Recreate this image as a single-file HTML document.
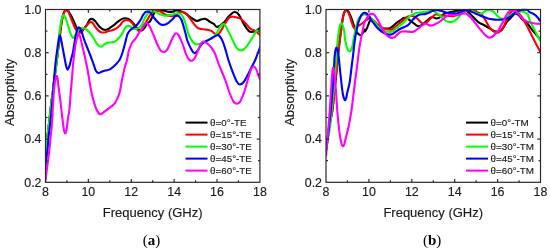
<!DOCTYPE html>
<html><head><meta charset="utf-8"><style>
html,body{margin:0;padding:0;background:#fff;}
body{width:550px;height:251px;overflow:hidden;}
svg{display:block;filter:blur(0.3px);}
text{font-family:"Liberation Sans",Arial,sans-serif;font-size:12.4px;fill:#1a1a1a;stroke:#1a1a1a;stroke-width:0.15px;}
text.leg{font-size:9.8px;}
text.cap{font-family:"Liberation Serif","Times New Roman",serif;font-size:15px;fill:#000;stroke:none;}
text.ttl{font-size:13px;}
</style></head><body>
<svg width="550" height="251" viewBox="0 0 550 251">
<defs><clipPath id="ca"><rect x="45.50" y="8.00" width="214.40" height="174.30"/></clipPath>
<clipPath id="cb"><rect x="326.00" y="8.00" width="214.50" height="174.30"/></clipPath></defs>
<g clip-path="url(#ca)"><g fill="none" stroke-width="2.1" stroke-linejoin="round" stroke-linecap="round"><path d="M45.50,155.00 C45.67,153.50 46.20,149.00 46.50,146.00 C46.80,143.00 46.97,140.00 47.30,137.00 C47.63,134.00 48.07,131.67 48.50,128.00 C48.93,124.33 49.45,119.00 49.90,115.00 C50.35,111.00 50.72,107.83 51.20,104.00 C51.68,100.17 52.30,96.00 52.80,92.00 C53.30,88.00 53.73,83.67 54.20,80.00 C54.67,76.33 55.20,73.00 55.60,70.00 C56.00,67.00 56.27,64.67 56.60,62.00 C56.93,59.33 57.27,56.67 57.60,54.00 C57.93,51.33 58.28,48.33 58.60,46.00 C58.92,43.67 59.22,42.33 59.50,40.00 C59.78,37.67 60.00,34.67 60.30,32.00 C60.60,29.33 60.92,26.50 61.30,24.00 C61.68,21.50 62.22,18.75 62.60,17.00 C62.98,15.25 63.23,14.50 63.60,13.50 C63.97,12.50 64.33,11.58 64.80,11.00 C65.27,10.42 65.88,10.07 66.40,10.00 C66.92,9.93 67.43,10.18 67.90,10.60 C68.37,11.02 68.68,11.68 69.20,12.50 C69.72,13.32 70.43,14.47 71.00,15.50 C71.57,16.53 72.02,17.45 72.60,18.70 C73.18,19.95 73.85,21.53 74.50,23.00 C75.15,24.47 75.83,26.25 76.50,27.50 C77.17,28.75 77.83,29.83 78.50,30.50 C79.17,31.17 79.87,31.42 80.50,31.50 C81.13,31.58 81.63,31.58 82.30,31.00 C82.97,30.42 83.70,29.08 84.50,28.00 C85.30,26.92 86.27,25.87 87.10,24.50 C87.93,23.13 88.72,20.73 89.50,19.80 C90.28,18.87 91.08,18.90 91.80,18.90 C92.52,18.90 93.17,19.33 93.80,19.80 C94.43,20.27 94.65,20.53 95.60,21.70 C96.55,22.87 98.22,25.52 99.50,26.80 C100.78,28.08 102.03,28.93 103.30,29.40 C104.57,29.87 105.83,29.98 107.10,29.60 C108.37,29.22 109.62,27.98 110.90,27.10 C112.18,26.22 113.52,25.30 114.80,24.30 C116.08,23.30 117.32,22.05 118.60,21.10 C119.88,20.15 121.35,19.08 122.50,18.60 C123.65,18.12 124.55,18.15 125.50,18.20 C126.45,18.25 127.35,18.53 128.20,18.90 C129.05,19.27 129.57,19.45 130.60,20.40 C131.63,21.35 133.25,23.25 134.40,24.60 C135.55,25.95 136.52,27.52 137.50,28.50 C138.48,29.48 139.43,30.28 140.30,30.50 C141.17,30.72 141.90,30.37 142.70,29.80 C143.50,29.23 144.30,28.18 145.10,27.10 C145.90,26.02 146.68,24.27 147.50,23.30 C148.32,22.33 149.15,22.48 150.00,21.30 C150.85,20.12 151.82,17.70 152.60,16.20 C153.38,14.70 154.18,13.15 154.70,12.30 C155.22,11.45 155.15,11.42 155.70,11.10 C156.25,10.78 156.82,10.50 158.00,10.40 C159.18,10.30 161.15,10.28 162.80,10.50 C164.45,10.72 166.32,11.50 167.90,11.70 C169.48,11.90 171.03,11.90 172.30,11.70 C173.57,11.50 174.55,10.72 175.50,10.50 C176.45,10.28 177.15,10.30 178.00,10.40 C178.85,10.50 179.32,10.55 180.60,11.10 C181.88,11.65 184.00,12.63 185.70,13.70 C187.40,14.77 189.10,16.33 190.80,17.50 C192.50,18.67 194.62,20.20 195.90,20.70 C197.18,21.20 197.65,20.72 198.50,20.50 C199.35,20.28 199.95,19.68 201.00,19.40 C202.05,19.12 203.72,18.70 204.80,18.80 C205.88,18.90 206.63,19.48 207.50,20.00 C208.37,20.52 208.95,21.25 210.00,21.90 C211.05,22.55 212.62,23.07 213.80,23.90 C214.98,24.73 215.48,27.07 217.10,26.90 C218.72,26.73 221.58,24.63 223.50,22.90 C225.42,21.17 226.78,18.32 228.60,16.50 C230.42,14.68 232.70,12.32 234.40,12.00 C236.10,11.68 237.22,12.58 238.80,14.60 C240.38,16.62 242.20,21.35 243.90,24.10 C245.60,26.85 247.52,29.82 249.00,31.10 C250.48,32.38 251.52,31.88 252.80,31.80 C254.08,31.72 255.42,31.32 256.70,30.60 C257.98,29.88 259.87,28.02 260.50,27.50" stroke="#000000"/><path d="M45.50,155.00 C45.67,153.50 46.20,149.00 46.50,146.00 C46.80,143.00 46.97,140.00 47.30,137.00 C47.63,134.00 48.07,131.67 48.50,128.00 C48.93,124.33 49.45,119.00 49.90,115.00 C50.35,111.00 50.72,107.83 51.20,104.00 C51.68,100.17 52.30,96.00 52.80,92.00 C53.30,88.00 53.73,83.67 54.20,80.00 C54.67,76.33 55.20,73.00 55.60,70.00 C56.00,67.00 56.27,64.67 56.60,62.00 C56.93,59.33 57.27,56.67 57.60,54.00 C57.93,51.33 58.28,48.33 58.60,46.00 C58.92,43.67 59.22,42.33 59.50,40.00 C59.78,37.67 60.00,34.67 60.30,32.00 C60.60,29.33 60.92,26.50 61.30,24.00 C61.68,21.50 62.22,18.75 62.60,17.00 C62.98,15.25 63.23,14.50 63.60,13.50 C63.97,12.50 64.37,11.58 64.80,11.00 C65.23,10.42 65.75,10.07 66.20,10.00 C66.65,9.93 67.10,10.22 67.50,10.60 C67.90,10.98 68.20,11.47 68.60,12.30 C69.00,13.13 69.25,13.98 69.90,15.60 C70.55,17.22 71.65,19.93 72.50,22.00 C73.35,24.07 74.15,26.37 75.00,28.00 C75.85,29.63 76.68,31.02 77.60,31.80 C78.52,32.58 79.72,32.83 80.50,32.70 C81.28,32.57 81.47,31.93 82.30,31.00 C83.13,30.07 84.33,28.50 85.50,27.10 C86.67,25.70 88.35,23.45 89.30,22.60 C90.25,21.75 90.58,21.88 91.20,22.00 C91.82,22.12 92.37,22.55 93.00,23.30 C93.63,24.05 94.03,25.23 95.00,26.50 C95.97,27.77 97.63,29.90 98.80,30.90 C99.97,31.90 100.83,32.28 102.00,32.50 C103.17,32.72 104.95,32.38 105.80,32.20 C106.65,32.02 106.03,31.72 107.10,31.40 C108.17,31.08 110.72,30.75 112.20,30.30 C113.68,29.85 114.73,29.48 116.00,28.70 C117.27,27.92 118.75,26.70 119.80,25.60 C120.85,24.50 121.52,22.95 122.30,22.10 C123.08,21.25 123.77,20.85 124.50,20.50 C125.23,20.15 125.95,19.98 126.70,20.00 C127.45,20.02 128.25,20.25 129.00,20.60 C129.75,20.95 130.30,21.20 131.20,22.10 C132.10,23.00 133.42,24.77 134.40,26.00 C135.38,27.23 136.25,28.65 137.10,29.50 C137.95,30.35 138.72,31.10 139.50,31.10 C140.28,31.10 141.00,30.43 141.80,29.50 C142.60,28.57 143.48,26.92 144.30,25.50 C145.12,24.08 145.90,22.45 146.70,21.00 C147.50,19.55 148.35,18.05 149.10,16.80 C149.85,15.55 150.53,14.43 151.20,13.50 C151.87,12.57 152.47,11.73 153.10,11.20 C153.73,10.67 154.23,10.42 155.00,10.30 C155.77,10.18 156.82,10.30 157.70,10.50 C158.58,10.70 159.45,11.08 160.30,11.50 C161.15,11.92 161.53,12.32 162.80,13.00 C164.07,13.68 166.20,15.07 167.90,15.60 C169.60,16.13 171.65,16.38 173.00,16.20 C174.35,16.02 174.95,15.13 176.00,14.50 C177.05,13.87 178.30,12.82 179.30,12.40 C180.30,11.98 181.15,12.00 182.00,12.00 C182.85,12.00 183.65,12.07 184.40,12.40 C185.15,12.73 185.85,13.37 186.50,14.00 C187.15,14.63 187.37,14.98 188.30,16.20 C189.23,17.42 190.83,19.60 192.10,21.30 C193.37,23.00 194.83,25.23 195.90,26.40 C196.97,27.57 197.65,27.87 198.50,28.30 C199.35,28.73 199.73,28.78 201.00,29.00 C202.27,29.22 204.40,29.28 206.10,29.60 C207.80,29.92 209.37,30.00 211.20,30.90 C213.03,31.80 215.58,34.85 217.10,35.00 C218.62,35.15 219.02,33.62 220.30,31.80 C221.58,29.98 223.20,26.55 224.80,24.10 C226.40,21.65 228.20,18.27 229.90,17.10 C231.60,15.93 233.30,16.88 235.00,17.10 C236.70,17.32 238.40,17.43 240.10,18.40 C241.80,19.37 243.50,21.20 245.20,22.90 C246.90,24.60 248.60,27.23 250.30,28.60 C252.00,29.97 253.70,29.95 255.40,31.10 C257.10,32.25 259.65,34.77 260.50,35.50" stroke="#ff0000"/><path d="M45.50,155.00 C45.67,153.50 46.20,149.00 46.50,146.00 C46.80,143.00 46.97,140.00 47.30,137.00 C47.63,134.00 48.07,131.67 48.50,128.00 C48.93,124.33 49.45,119.00 49.90,115.00 C50.35,111.00 50.72,107.83 51.20,104.00 C51.68,100.17 52.30,96.00 52.80,92.00 C53.30,88.00 53.73,83.67 54.20,80.00 C54.67,76.33 55.20,73.00 55.60,70.00 C56.00,67.00 56.27,64.67 56.60,62.00 C56.93,59.33 57.33,56.67 57.60,54.00 C57.87,51.33 57.98,49.00 58.20,46.00 C58.42,43.00 58.58,39.00 58.90,36.00 C59.22,33.00 59.73,30.50 60.10,28.00 C60.47,25.50 60.72,22.83 61.10,21.00 C61.48,19.17 61.92,17.95 62.40,17.00 C62.88,16.05 63.23,14.47 64.00,15.30 C64.77,16.13 66.00,19.22 67.00,22.00 C68.00,24.78 69.02,29.35 70.00,32.00 C70.98,34.65 71.98,37.40 72.90,37.90 C73.82,38.40 74.57,36.28 75.50,35.00 C76.43,33.72 77.68,31.32 78.50,30.20 C79.32,29.08 79.73,28.67 80.40,28.30 C81.07,27.93 81.65,27.88 82.50,28.00 C83.35,28.12 84.37,28.30 85.50,29.00 C86.63,29.70 88.13,30.93 89.30,32.20 C90.47,33.47 91.63,35.38 92.50,36.60 C93.37,37.82 93.87,38.42 94.50,39.50 C95.13,40.58 95.63,42.08 96.30,43.10 C96.97,44.12 97.68,44.98 98.50,45.60 C99.32,46.22 100.22,47.00 101.20,46.80 C102.18,46.60 103.33,45.08 104.40,44.40 C105.47,43.72 106.33,43.05 107.60,42.70 C108.87,42.35 110.73,42.53 112.00,42.30 C113.27,42.07 114.13,41.93 115.20,41.30 C116.27,40.67 117.33,39.62 118.40,38.50 C119.47,37.38 120.78,35.77 121.60,34.60 C122.42,33.43 122.87,32.30 123.30,31.50 C123.73,30.70 123.72,30.63 124.20,29.80 C124.68,28.97 125.52,27.18 126.20,26.50 C126.88,25.82 127.58,25.70 128.30,25.70 C129.02,25.70 129.63,26.03 130.50,26.50 C131.37,26.97 132.67,28.08 133.50,28.50 C134.33,28.92 134.75,29.03 135.50,29.00 C136.25,28.97 137.12,28.80 138.00,28.30 C138.88,27.80 140.05,26.83 140.80,26.00 C141.55,25.17 141.98,24.30 142.50,23.30 C143.02,22.30 143.35,21.15 143.90,20.00 C144.45,18.85 145.20,17.43 145.80,16.40 C146.40,15.37 146.80,14.78 147.50,13.80 C148.20,12.82 149.17,10.97 150.00,10.50 C150.83,10.03 151.65,10.80 152.50,11.00 C153.35,11.20 154.03,11.25 155.10,11.70 C156.17,12.15 157.42,13.05 158.90,13.70 C160.38,14.35 162.65,15.28 164.00,15.60 C165.35,15.92 165.93,15.72 167.00,15.60 C168.07,15.48 168.98,15.22 170.40,14.90 C171.82,14.58 174.15,13.93 175.50,13.70 C176.85,13.47 177.65,13.47 178.50,13.50 C179.35,13.53 179.97,13.53 180.60,13.90 C181.23,14.27 181.77,14.88 182.30,15.70 C182.83,16.52 183.27,17.50 183.80,18.80 C184.33,20.10 184.97,21.80 185.50,23.50 C186.03,25.20 186.33,26.82 187.00,29.00 C187.67,31.18 188.20,34.12 189.50,36.60 C190.80,39.08 192.92,42.75 194.80,43.90 C196.68,45.05 199.10,43.90 200.80,43.50 C202.50,43.10 203.33,42.37 205.00,41.50 C206.67,40.63 209.05,39.38 210.80,38.30 C212.55,37.22 214.02,36.80 215.50,35.00 C216.98,33.20 218.70,29.17 219.70,27.50 C220.70,25.83 220.87,25.58 221.50,25.00 C222.13,24.42 222.87,23.95 223.50,24.00 C224.13,24.05 224.67,24.43 225.30,25.30 C225.93,26.17 226.32,27.27 227.30,29.20 C228.28,31.13 230.08,34.60 231.20,36.90 C232.32,39.20 233.12,41.23 234.00,43.00 C234.88,44.77 235.70,46.37 236.50,47.50 C237.30,48.63 238.10,49.32 238.80,49.80 C239.50,50.28 240.05,50.37 240.70,50.40 C241.35,50.43 241.73,50.63 242.70,50.00 C243.67,49.37 245.02,48.45 246.50,46.60 C247.98,44.75 250.12,41.23 251.60,38.90 C253.08,36.57 254.45,34.00 255.40,32.60 C256.35,31.20 256.45,30.60 257.30,30.50 C258.15,30.40 259.97,31.75 260.50,32.00" stroke="#00ff00"/><path d="M45.50,166.00 C45.63,165.00 45.90,163.33 46.30,160.00 C46.70,156.67 47.52,149.83 47.90,146.00 C48.28,142.17 48.30,140.00 48.60,137.00 C48.90,134.00 49.33,131.17 49.70,128.00 C50.07,124.83 50.48,121.00 50.80,118.00 C51.12,115.00 51.32,113.00 51.60,110.00 C51.88,107.00 52.22,103.33 52.50,100.00 C52.78,96.67 53.02,93.67 53.30,90.00 C53.58,86.33 53.88,82.00 54.20,78.00 C54.52,74.00 54.88,69.33 55.20,66.00 C55.52,62.67 55.77,60.67 56.10,58.00 C56.43,55.33 56.85,52.50 57.20,50.00 C57.55,47.50 57.78,45.37 58.20,43.00 C58.62,40.63 59.27,36.63 59.70,35.80 C60.13,34.97 60.47,36.80 60.80,38.00 C61.13,39.20 61.37,41.25 61.70,43.00 C62.03,44.75 62.42,46.50 62.80,48.50 C63.18,50.50 63.55,52.58 64.00,55.00 C64.45,57.42 65.08,60.92 65.50,63.00 C65.92,65.08 66.15,66.38 66.50,67.50 C66.85,68.62 67.22,69.70 67.60,69.70 C67.98,69.70 68.40,68.45 68.80,67.50 C69.20,66.55 69.60,65.42 70.00,64.00 C70.40,62.58 70.70,61.00 71.20,59.00 C71.70,57.00 72.32,55.50 73.00,52.00 C73.68,48.50 74.63,41.58 75.30,38.00 C75.97,34.42 76.42,32.27 77.00,30.50 C77.58,28.73 78.13,27.48 78.80,27.40 C79.47,27.32 80.20,28.23 81.00,30.00 C81.80,31.77 82.77,35.58 83.60,38.00 C84.43,40.42 84.97,41.83 86.00,44.50 C87.03,47.17 88.67,51.08 89.80,54.00 C90.93,56.92 92.07,60.00 92.80,62.00 C93.53,64.00 93.68,64.53 94.20,66.00 C94.72,67.47 95.18,69.62 95.90,70.80 C96.62,71.98 97.55,72.93 98.50,73.10 C99.45,73.27 100.43,72.23 101.60,71.80 C102.77,71.37 104.22,70.87 105.50,70.50 C106.78,70.13 108.03,70.18 109.30,69.60 C110.57,69.02 111.83,68.07 113.10,67.00 C114.37,65.93 115.83,64.37 116.90,63.20 C117.97,62.03 118.77,61.20 119.50,60.00 C120.23,58.80 120.67,57.67 121.30,56.00 C121.93,54.33 122.62,52.33 123.30,50.00 C123.98,47.67 124.72,44.62 125.40,42.00 C126.08,39.38 126.65,36.22 127.40,34.30 C128.15,32.38 128.95,31.55 129.90,30.50 C130.85,29.45 132.08,28.78 133.10,28.00 C134.12,27.22 135.10,26.63 136.00,25.80 C136.90,24.97 137.70,24.03 138.50,23.00 C139.30,21.97 140.13,20.77 140.80,19.60 C141.47,18.43 141.98,16.97 142.50,16.00 C143.02,15.03 143.35,14.48 143.90,13.80 C144.45,13.12 145.15,12.27 145.80,11.90 C146.45,11.53 147.10,11.50 147.80,11.60 C148.50,11.70 149.33,12.02 150.00,12.50 C150.67,12.98 151.17,13.67 151.80,14.50 C152.43,15.33 152.82,16.25 153.80,17.50 C154.78,18.75 156.58,20.87 157.70,22.00 C158.82,23.13 159.65,23.82 160.50,24.30 C161.35,24.78 161.97,24.87 162.80,24.90 C163.63,24.93 164.65,24.78 165.50,24.50 C166.35,24.22 167.07,23.78 167.90,23.20 C168.73,22.62 169.65,21.73 170.50,21.00 C171.35,20.27 172.25,19.55 173.00,18.80 C173.75,18.05 174.37,17.03 175.00,16.50 C175.63,15.97 176.22,15.68 176.80,15.60 C177.38,15.52 177.97,15.68 178.50,16.00 C179.03,16.32 179.47,16.75 180.00,17.50 C180.53,18.25 181.17,19.23 181.70,20.50 C182.23,21.77 182.53,22.85 183.20,25.10 C183.87,27.35 184.98,31.35 185.70,34.00 C186.42,36.65 186.47,38.27 187.50,41.00 C188.53,43.73 190.72,48.38 191.90,50.40 C193.08,52.42 193.58,53.17 194.60,53.10 C195.62,53.03 196.80,51.52 198.00,50.00 C199.20,48.48 200.52,45.42 201.80,44.00 C203.08,42.58 204.20,42.35 205.70,41.50 C207.20,40.65 208.78,39.97 210.80,38.90 C212.82,37.83 215.90,34.88 217.80,35.10 C219.70,35.32 220.82,37.43 222.20,40.20 C223.58,42.97 225.07,48.40 226.10,51.70 C227.13,55.00 227.22,56.38 228.40,60.00 C229.58,63.62 231.77,69.73 233.20,73.40 C234.63,77.07 235.88,80.15 237.00,82.00 C238.12,83.85 238.78,84.50 239.90,84.50 C241.02,84.50 242.27,83.85 243.70,82.00 C245.13,80.15 247.07,76.12 248.50,73.40 C249.93,70.68 251.18,67.93 252.30,65.70 C253.42,63.47 254.33,61.95 255.20,60.00 C256.07,58.05 256.62,56.33 257.50,54.00 C258.38,51.67 260.00,47.33 260.50,46.00" stroke="#0000ff"/><path d="M45.50,181.00 C45.67,179.50 46.15,174.83 46.50,172.00 C46.85,169.17 47.23,166.83 47.60,164.00 C47.97,161.17 48.33,158.00 48.70,155.00 C49.07,152.00 49.48,149.00 49.80,146.00 C50.12,143.00 50.30,140.00 50.60,137.00 C50.90,134.00 51.32,131.17 51.60,128.00 C51.88,124.83 52.12,121.00 52.30,118.00 C52.48,115.00 52.47,114.00 52.70,110.00 C52.93,106.00 53.42,98.00 53.70,94.00 C53.98,90.00 54.13,88.33 54.40,86.00 C54.67,83.67 54.93,81.67 55.30,80.00 C55.67,78.33 56.22,76.25 56.60,76.00 C56.98,75.75 57.30,76.83 57.60,78.50 C57.90,80.17 58.08,83.42 58.40,86.00 C58.72,88.58 59.15,91.33 59.50,94.00 C59.85,96.67 60.18,99.33 60.50,102.00 C60.82,104.67 61.08,107.33 61.40,110.00 C61.72,112.67 62.10,115.50 62.40,118.00 C62.70,120.50 62.90,122.83 63.20,125.00 C63.50,127.17 63.87,129.60 64.20,131.00 C64.53,132.40 64.85,133.40 65.20,133.40 C65.55,133.40 65.97,132.40 66.30,131.00 C66.63,129.60 66.92,127.17 67.20,125.00 C67.48,122.83 67.63,120.50 68.00,118.00 C68.37,115.50 68.97,114.00 69.40,110.00 C69.83,106.00 70.17,99.33 70.60,94.00 C71.03,88.67 71.55,83.33 72.00,78.00 C72.45,72.67 72.75,67.33 73.30,62.00 C73.85,56.67 74.65,50.17 75.30,46.00 C75.95,41.83 76.62,38.98 77.20,37.00 C77.78,35.02 78.27,33.93 78.80,34.10 C79.33,34.27 79.82,36.02 80.40,38.00 C80.98,39.98 81.67,43.33 82.30,46.00 C82.93,48.67 83.32,50.00 84.20,54.00 C85.08,58.00 86.47,64.00 87.60,70.00 C88.73,76.00 89.90,84.48 91.00,90.00 C92.10,95.52 93.28,99.85 94.20,103.10 C95.12,106.35 95.78,107.85 96.50,109.50 C97.22,111.15 97.87,112.20 98.50,113.00 C99.13,113.80 99.67,114.25 100.30,114.30 C100.93,114.35 101.52,113.82 102.30,113.30 C103.08,112.78 103.97,111.98 105.00,111.20 C106.03,110.42 106.83,109.95 108.50,108.60 C110.17,107.25 113.18,105.65 115.00,103.10 C116.82,100.55 118.23,97.15 119.40,93.30 C120.57,89.45 121.05,84.55 122.00,80.00 C122.95,75.45 124.35,69.00 125.10,66.00 C125.85,63.00 126.12,63.33 126.50,62.00 C126.88,60.67 127.05,59.73 127.40,58.00 C127.75,56.27 128.07,53.63 128.60,51.60 C129.13,49.57 129.87,47.48 130.60,45.80 C131.33,44.12 132.27,42.58 133.00,41.50 C133.73,40.42 134.37,40.08 135.00,39.30 C135.63,38.52 136.27,37.63 136.80,36.80 C137.33,35.97 137.53,35.43 138.20,34.30 C138.87,33.17 139.95,31.38 140.80,30.00 C141.65,28.62 142.60,27.07 143.30,26.00 C144.00,24.93 144.43,24.10 145.00,23.60 C145.57,23.10 146.15,22.85 146.70,23.00 C147.25,23.15 147.77,23.82 148.30,24.50 C148.83,25.18 149.62,26.68 149.90,27.10 C150.18,27.52 149.65,26.27 150.00,27.00 C150.35,27.73 151.33,30.00 152.00,31.50 C152.67,33.00 153.25,34.17 154.00,36.00 C154.75,37.83 155.67,40.52 156.50,42.50 C157.33,44.48 158.17,46.45 159.00,47.90 C159.83,49.35 160.67,50.52 161.50,51.20 C162.33,51.88 163.12,52.17 164.00,52.00 C164.88,51.83 165.80,51.55 166.80,50.20 C167.80,48.85 168.97,46.10 170.00,43.90 C171.03,41.70 172.02,38.77 173.00,37.00 C173.98,35.23 174.98,33.63 175.90,33.30 C176.82,32.97 177.67,33.90 178.50,35.00 C179.33,36.10 180.07,37.98 180.90,39.90 C181.73,41.82 182.67,44.17 183.50,46.50 C184.33,48.83 185.02,51.78 185.90,53.90 C186.78,56.02 187.82,58.05 188.80,59.20 C189.78,60.35 190.85,60.92 191.80,60.80 C192.75,60.68 193.67,59.65 194.50,58.50 C195.33,57.35 195.92,56.00 196.80,53.90 C197.68,51.80 198.77,47.93 199.80,45.90 C200.83,43.87 202.08,42.30 203.00,41.70 C203.92,41.10 204.55,41.97 205.30,42.30 C206.05,42.63 206.50,42.83 207.50,43.70 C208.50,44.57 210.03,45.80 211.30,47.50 C212.57,49.20 213.97,51.40 215.10,53.90 C216.23,56.40 217.00,59.57 218.10,62.50 C219.20,65.43 220.45,68.42 221.70,71.50 C222.95,74.58 224.32,77.50 225.60,81.00 C226.88,84.50 228.13,89.15 229.40,92.50 C230.67,95.85 232.08,99.25 233.20,101.10 C234.32,102.95 235.22,103.25 236.10,103.60 C236.98,103.95 237.70,103.77 238.50,103.20 C239.30,102.63 239.87,102.30 240.90,100.20 C241.93,98.10 243.43,94.43 244.70,90.60 C245.97,86.77 247.38,80.87 248.50,77.20 C249.62,73.53 250.53,70.38 251.40,68.60 C252.27,66.82 253.02,66.60 253.70,66.50 C254.38,66.40 254.93,67.17 255.50,68.00 C256.07,68.83 256.52,69.97 257.10,71.50 C257.68,73.03 258.43,75.78 259.00,77.20 C259.57,78.62 260.25,79.53 260.50,80.00" stroke="#ff00ff"/></g></g><g clip-path="url(#cb)"><g fill="none" stroke-width="2.1" stroke-linejoin="round" stroke-linecap="round"><path d="M326.20,149.00 C326.45,147.17 327.15,142.00 327.70,138.00 C328.25,134.00 328.73,129.50 329.50,125.00 C330.27,120.50 331.45,116.83 332.30,111.00 C333.15,105.17 333.95,96.17 334.60,90.00 C335.25,83.83 335.72,79.00 336.20,74.00 C336.68,69.00 337.10,64.00 337.50,60.00 C337.90,56.00 338.23,53.33 338.60,50.00 C338.97,46.67 339.30,43.17 339.70,40.00 C340.10,36.83 340.58,34.00 341.00,31.00 C341.42,28.00 341.72,24.92 342.20,22.00 C342.68,19.08 343.35,15.37 343.90,13.50 C344.45,11.63 344.90,11.33 345.50,10.80 C346.10,10.27 346.77,9.70 347.50,10.30 C348.23,10.90 349.12,12.73 349.90,14.40 C350.68,16.07 351.42,18.10 352.20,20.30 C352.98,22.50 353.78,25.53 354.60,27.60 C355.42,29.67 356.15,31.42 357.10,32.70 C358.05,33.98 359.40,35.17 360.30,35.30 C361.20,35.43 361.77,34.45 362.50,33.50 C363.23,32.55 364.28,29.93 364.70,29.60 C365.12,29.27 364.60,31.78 365.00,31.50 C365.40,31.22 366.33,29.55 367.10,27.90 C367.87,26.25 368.85,22.98 369.60,21.60 C370.35,20.22 370.85,19.60 371.60,19.60 C372.35,19.60 373.27,20.75 374.10,21.60 C374.93,22.45 375.85,23.75 376.60,24.70 C377.35,25.65 377.63,26.70 378.60,27.30 C379.57,27.90 381.17,28.08 382.40,28.30 C383.63,28.52 384.73,28.62 386.00,28.60 C387.27,28.58 388.90,28.57 390.00,28.20 C391.10,27.83 391.43,27.35 392.60,26.40 C393.77,25.45 395.63,23.57 397.00,22.50 C398.37,21.43 399.72,20.75 400.80,20.00 C401.88,19.25 402.72,18.37 403.50,18.00 C404.28,17.63 404.83,17.70 405.50,17.80 C406.17,17.90 406.78,18.18 407.50,18.60 C408.22,19.02 408.78,19.53 409.80,20.30 C410.82,21.07 412.32,22.25 413.60,23.20 C414.88,24.15 416.33,25.58 417.50,26.00 C418.67,26.42 419.55,26.17 420.60,25.70 C421.65,25.23 422.73,24.05 423.80,23.20 C424.87,22.35 425.93,21.50 427.00,20.60 C428.07,19.70 429.28,18.35 430.20,17.80 C431.12,17.25 431.87,17.33 432.50,17.30 C433.13,17.27 433.42,17.42 434.00,17.60 C434.58,17.78 435.25,18.32 436.00,18.40 C436.75,18.48 437.65,18.42 438.50,18.10 C439.35,17.78 440.13,17.25 441.10,16.50 C442.07,15.75 443.03,14.28 444.30,13.60 C445.57,12.92 447.12,12.77 448.70,12.40 C450.28,12.03 452.30,11.67 453.80,11.40 C455.30,11.13 456.42,11.02 457.70,10.80 C458.98,10.58 460.45,10.20 461.50,10.10 C462.55,10.00 463.25,10.13 464.00,10.20 C464.75,10.27 465.13,10.03 466.00,10.50 C466.87,10.97 468.13,12.05 469.20,13.00 C470.27,13.95 471.33,15.13 472.40,16.20 C473.47,17.27 474.65,18.45 475.60,19.40 C476.55,20.35 477.37,21.27 478.10,21.90 C478.83,22.53 478.83,22.57 480.00,23.20 C481.17,23.83 483.50,24.85 485.10,25.70 C486.70,26.55 488.22,27.45 489.60,28.30 C490.98,29.15 492.35,30.27 493.40,30.80 C494.45,31.33 494.62,31.55 495.90,31.50 C497.18,31.45 499.28,32.10 501.10,30.50 C502.92,28.90 505.32,23.87 506.80,21.90 C508.28,19.93 508.93,19.87 510.00,18.70 C511.07,17.53 512.35,15.75 513.20,14.90 C514.05,14.05 514.35,13.70 515.10,13.60 C515.85,13.50 516.85,13.77 517.70,14.30 C518.55,14.83 519.35,15.85 520.20,16.80 C521.05,17.75 521.92,19.30 522.80,20.00 C523.68,20.70 524.13,19.62 525.50,21.00 C526.87,22.38 529.32,26.17 531.00,28.30 C532.68,30.43 534.23,32.12 535.60,33.80 C536.97,35.48 538.30,37.28 539.20,38.40 C540.10,39.52 540.70,40.15 541.00,40.50" stroke="#000000"/><path d="M326.20,149.00 C326.45,147.17 327.15,142.00 327.70,138.00 C328.25,134.00 328.73,129.50 329.50,125.00 C330.27,120.50 331.45,116.83 332.30,111.00 C333.15,105.17 333.95,96.17 334.60,90.00 C335.25,83.83 335.72,79.00 336.20,74.00 C336.68,69.00 337.10,64.00 337.50,60.00 C337.90,56.00 338.23,53.33 338.60,50.00 C338.97,46.67 339.30,43.17 339.70,40.00 C340.10,36.83 340.58,34.00 341.00,31.00 C341.42,28.00 341.72,24.92 342.20,22.00 C342.68,19.08 343.22,15.43 343.90,13.50 C344.58,11.57 345.50,10.45 346.30,10.40 C347.10,10.35 347.90,11.55 348.70,13.20 C349.50,14.85 350.35,18.08 351.10,20.30 C351.85,22.52 352.58,25.17 353.20,26.50 C353.82,27.83 354.25,28.22 354.80,28.30 C355.35,28.38 355.90,27.43 356.50,27.00 C357.10,26.57 357.48,26.28 358.40,25.70 C359.32,25.12 360.77,24.40 362.00,23.50 C363.23,22.60 364.63,21.10 365.80,20.30 C366.97,19.50 368.13,19.02 369.00,18.70 C369.87,18.38 370.25,18.13 371.00,18.40 C371.75,18.67 372.57,19.45 373.50,20.30 C374.43,21.15 375.55,22.48 376.60,23.50 C377.65,24.52 378.73,25.60 379.80,26.40 C380.87,27.20 381.72,27.83 383.00,28.30 C384.28,28.77 386.02,28.98 387.50,29.20 C388.98,29.42 390.63,29.97 391.90,29.60 C393.17,29.23 393.93,27.97 395.10,27.00 C396.27,26.03 397.52,24.97 398.90,23.80 C400.28,22.63 402.22,21.03 403.40,20.00 C404.58,18.97 404.93,18.27 406.00,17.60 C407.07,16.93 408.53,16.22 409.80,16.00 C411.07,15.78 412.32,15.83 413.60,16.30 C414.88,16.77 416.33,17.85 417.50,18.80 C418.67,19.75 419.60,21.23 420.60,22.00 C421.60,22.77 422.43,23.37 423.50,23.40 C424.57,23.43 425.83,23.02 427.00,22.20 C428.17,21.38 429.33,19.62 430.50,18.50 C431.67,17.38 433.08,16.20 434.00,15.50 C434.92,14.80 435.03,14.35 436.00,14.30 C436.97,14.25 438.42,14.98 439.80,15.20 C441.18,15.42 442.82,15.48 444.30,15.60 C445.78,15.72 447.32,15.80 448.70,15.90 C450.08,16.00 451.32,16.32 452.60,16.20 C453.88,16.08 455.13,15.63 456.40,15.20 C457.67,14.77 459.13,14.07 460.20,13.60 C461.27,13.13 461.85,12.82 462.80,12.40 C463.75,11.98 464.95,11.48 465.90,11.10 C466.85,10.72 467.63,10.30 468.50,10.10 C469.37,9.90 469.92,9.63 471.10,9.90 C472.28,10.17 474.22,11.18 475.60,11.70 C476.98,12.22 478.23,12.35 479.40,13.00 C480.57,13.65 481.75,14.65 482.60,15.60 C483.45,16.55 483.87,17.65 484.50,18.70 C485.13,19.75 485.90,21.02 486.40,21.90 C486.90,22.78 486.97,23.05 487.50,24.00 C488.03,24.95 488.72,26.47 489.60,27.60 C490.48,28.73 491.85,30.05 492.80,30.80 C493.75,31.55 494.33,31.83 495.30,32.10 C496.27,32.37 497.20,33.30 498.60,32.40 C500.00,31.50 502.53,28.45 503.70,26.70 C504.87,24.95 504.77,23.65 505.60,21.90 C506.43,20.15 507.75,17.90 508.70,16.20 C509.65,14.50 510.45,12.67 511.30,11.70 C512.15,10.73 512.95,10.60 513.80,10.40 C514.65,10.20 515.65,10.17 516.40,10.50 C517.15,10.83 517.45,11.35 518.30,12.40 C519.15,13.45 520.55,15.43 521.50,16.80 C522.45,18.17 523.03,18.98 524.00,20.60 C524.97,22.22 525.83,23.68 527.30,26.50 C528.77,29.32 531.12,34.15 532.80,37.50 C534.48,40.85 536.03,44.02 537.40,46.60 C538.77,49.18 540.40,51.93 541.00,53.00" stroke="#ff0000"/><path d="M326.20,149.00 C326.50,147.33 327.37,142.67 328.00,139.00 C328.63,135.33 329.40,131.67 330.00,127.00 C330.60,122.33 330.98,117.17 331.60,111.00 C332.22,104.83 333.07,96.83 333.70,90.00 C334.33,83.17 334.97,75.33 335.40,70.00 C335.83,64.67 336.03,61.67 336.30,58.00 C336.57,54.33 336.75,51.00 337.00,48.00 C337.25,45.00 337.52,42.67 337.80,40.00 C338.08,37.33 338.40,34.17 338.70,32.00 C339.00,29.83 339.28,28.33 339.60,27.00 C339.92,25.67 340.27,24.62 340.60,24.00 C340.93,23.38 341.23,23.05 341.60,23.30 C341.97,23.55 342.38,24.22 342.80,25.50 C343.22,26.78 343.70,28.58 344.10,31.00 C344.50,33.42 344.80,37.50 345.20,40.00 C345.60,42.50 346.03,44.33 346.50,46.00 C346.97,47.67 347.48,49.10 348.00,50.00 C348.52,50.90 349.07,51.40 349.60,51.40 C350.13,51.40 350.72,50.90 351.20,50.00 C351.68,49.10 352.13,47.67 352.50,46.00 C352.87,44.33 352.93,42.50 353.40,40.00 C353.87,37.50 354.73,33.67 355.30,31.00 C355.87,28.33 356.27,26.00 356.80,24.00 C357.33,22.00 357.80,20.33 358.50,19.00 C359.20,17.67 360.08,16.75 361.00,16.00 C361.92,15.25 363.07,14.67 364.00,14.50 C364.93,14.33 365.77,14.75 366.60,15.00 C367.43,15.25 368.18,15.42 369.00,16.00 C369.82,16.58 370.67,17.58 371.50,18.50 C372.33,19.42 373.20,20.53 374.00,21.50 C374.80,22.47 375.33,23.17 376.30,24.30 C377.27,25.43 378.58,27.22 379.80,28.30 C381.02,29.38 382.12,30.22 383.60,30.80 C385.08,31.38 387.20,31.68 388.70,31.80 C390.20,31.92 391.32,32.08 392.60,31.50 C393.88,30.92 394.92,29.47 396.40,28.30 C397.88,27.13 399.90,25.83 401.50,24.50 C403.10,23.17 404.62,21.67 406.00,20.30 C407.38,18.93 408.42,17.40 409.80,16.30 C411.18,15.20 412.82,14.33 414.30,13.70 C415.78,13.07 417.12,12.77 418.70,12.50 C420.28,12.23 422.20,12.27 423.80,12.10 C425.40,11.93 426.92,11.77 428.30,11.50 C429.68,11.23 431.03,10.45 432.10,10.50 C433.17,10.55 433.75,11.27 434.70,11.80 C435.65,12.33 437.00,13.17 437.80,13.70 C438.60,14.23 438.73,14.28 439.50,15.00 C440.27,15.72 441.38,17.08 442.40,18.00 C443.42,18.92 444.67,19.88 445.60,20.50 C446.53,21.12 447.17,21.43 448.00,21.70 C448.83,21.97 449.77,22.12 450.60,22.10 C451.43,22.08 452.25,21.87 453.00,21.60 C453.75,21.33 454.22,21.18 455.10,20.50 C455.98,19.82 457.23,18.65 458.30,17.50 C459.37,16.35 460.43,14.65 461.50,13.60 C462.57,12.55 463.95,11.80 464.70,11.20 C465.45,10.60 465.28,10.15 466.00,10.00 C466.72,9.85 467.93,10.12 469.00,10.30 C470.07,10.48 471.20,10.65 472.40,11.10 C473.60,11.55 475.03,12.47 476.20,13.00 C477.37,13.53 478.33,14.30 479.40,14.30 C480.47,14.30 481.43,13.63 482.60,13.00 C483.77,12.37 485.13,10.98 486.40,10.50 C487.67,10.02 489.03,9.90 490.20,10.10 C491.37,10.30 492.43,11.00 493.40,11.70 C494.37,12.40 495.03,13.33 496.00,14.30 C496.97,15.27 498.13,16.77 499.20,17.50 C500.27,18.23 501.33,18.60 502.40,18.70 C503.47,18.80 504.55,18.52 505.60,18.10 C506.65,17.68 507.53,16.95 508.70,16.20 C509.87,15.45 511.32,14.23 512.60,13.60 C513.88,12.97 515.13,12.77 516.40,12.40 C517.67,12.03 519.03,11.52 520.20,11.40 C521.37,11.28 522.45,11.43 523.40,11.70 C524.35,11.97 525.17,12.57 525.90,13.00 C526.63,13.43 527.12,12.97 527.80,14.30 C528.48,15.63 528.85,18.37 530.00,21.00 C531.15,23.63 533.32,27.35 534.70,30.10 C536.08,32.85 537.25,35.60 538.30,37.50 C539.35,39.40 540.55,40.83 541.00,41.50" stroke="#00ff00"/><path d="M326.20,150.00 C326.50,147.67 327.45,140.67 328.00,136.00 C328.55,131.33 329.05,126.17 329.50,122.00 C329.95,117.83 330.20,116.33 330.70,111.00 C331.20,105.67 332.07,95.50 332.50,90.00 C332.93,84.50 333.05,81.67 333.30,78.00 C333.55,74.33 333.80,71.33 334.00,68.00 C334.20,64.67 334.28,60.83 334.50,58.00 C334.72,55.17 334.97,52.73 335.30,51.00 C335.63,49.27 336.08,47.60 336.50,47.60 C336.92,47.60 337.43,49.43 337.80,51.00 C338.17,52.57 338.40,54.50 338.70,57.00 C339.00,59.50 339.17,61.83 339.60,66.00 C340.03,70.17 340.78,77.50 341.30,82.00 C341.82,86.50 342.30,90.40 342.70,93.00 C343.10,95.60 343.32,96.38 343.70,97.60 C344.08,98.82 344.57,100.30 345.00,100.30 C345.43,100.30 345.93,98.82 346.30,97.60 C346.67,96.38 346.63,95.60 347.20,93.00 C347.77,90.40 348.95,86.50 349.70,82.00 C350.45,77.50 351.13,70.50 351.70,66.00 C352.27,61.50 352.68,58.50 353.10,55.00 C353.52,51.50 353.83,48.00 354.20,45.00 C354.57,42.00 354.92,39.33 355.30,37.00 C355.68,34.67 356.05,33.17 356.50,31.00 C356.95,28.83 357.45,26.08 358.00,24.00 C358.55,21.92 359.17,20.08 359.80,18.50 C360.43,16.92 361.08,15.45 361.80,14.50 C362.52,13.55 363.32,12.97 364.10,12.80 C364.88,12.63 365.68,12.97 366.50,13.50 C367.32,14.03 368.23,14.92 369.00,16.00 C369.77,17.08 370.22,18.67 371.10,20.00 C371.98,21.33 373.48,22.93 374.30,24.00 C375.12,25.07 375.18,25.47 376.00,26.40 C376.82,27.33 377.93,28.55 379.20,29.60 C380.47,30.65 382.02,31.87 383.60,32.70 C385.18,33.53 387.20,34.38 388.70,34.60 C390.20,34.82 391.22,34.63 392.60,34.00 C393.98,33.37 395.52,31.75 397.00,30.80 C398.48,29.85 399.95,29.07 401.50,28.30 C403.05,27.53 405.02,26.93 406.30,26.20 C407.58,25.47 408.18,24.92 409.20,23.90 C410.22,22.88 411.23,21.37 412.40,20.10 C413.57,18.83 414.93,17.25 416.20,16.30 C417.47,15.35 418.52,14.77 420.00,14.40 C421.48,14.03 423.50,14.42 425.10,14.10 C426.70,13.78 428.22,13.10 429.60,12.50 C430.98,11.90 432.33,10.90 433.40,10.50 C434.47,10.10 435.15,10.13 436.00,10.10 C436.85,10.07 437.65,10.18 438.50,10.30 C439.35,10.42 439.92,10.45 441.10,10.80 C442.28,11.15 444.12,11.98 445.60,12.40 C447.08,12.82 448.63,13.10 450.00,13.30 C451.37,13.50 452.52,13.60 453.80,13.60 C455.08,13.60 456.42,13.62 457.70,13.30 C458.98,12.98 460.33,12.17 461.50,11.70 C462.67,11.23 463.95,10.77 464.70,10.50 C465.45,10.23 465.15,10.00 466.00,10.10 C466.85,10.20 468.42,10.62 469.80,11.10 C471.18,11.58 472.82,12.37 474.30,13.00 C475.78,13.63 477.22,14.27 478.70,14.90 C480.18,15.53 481.70,16.22 483.20,16.80 C484.70,17.38 486.10,17.97 487.70,18.40 C489.30,18.83 491.12,19.18 492.80,19.40 C494.48,19.62 496.42,19.65 497.80,19.70 C499.18,19.75 499.80,19.87 501.10,19.70 C502.40,19.53 504.12,19.18 505.60,18.70 C507.08,18.22 508.63,17.65 510.00,16.80 C511.37,15.95 512.63,14.55 513.80,13.60 C514.97,12.65 515.93,11.68 517.00,11.10 C518.07,10.52 519.03,10.32 520.20,10.10 C521.37,9.88 522.73,9.80 524.00,9.80 C525.27,9.80 526.93,9.77 527.80,10.10 C528.67,10.43 528.05,11.05 529.20,11.80 C530.35,12.55 533.18,13.53 534.70,14.60 C536.22,15.67 537.25,16.97 538.30,18.20 C539.35,19.43 540.55,21.37 541.00,22.00" stroke="#0000ff"/><path d="M326.20,155.50 C326.32,153.75 326.63,148.42 326.90,145.00 C327.17,141.58 327.52,138.33 327.80,135.00 C328.08,131.67 328.28,129.00 328.60,125.00 C328.92,121.00 329.33,116.00 329.70,111.00 C330.07,106.00 330.48,99.83 330.80,95.00 C331.12,90.17 331.35,85.83 331.60,82.00 C331.85,78.17 332.03,74.42 332.30,72.00 C332.57,69.58 332.90,67.67 333.20,67.50 C333.50,67.33 333.80,68.92 334.10,71.00 C334.40,73.08 334.70,76.83 335.00,80.00 C335.30,83.17 335.63,86.67 335.90,90.00 C336.17,93.33 336.37,96.50 336.60,100.00 C336.83,103.50 336.97,106.83 337.30,111.00 C337.63,115.17 338.15,120.83 338.60,125.00 C339.05,129.17 339.55,133.00 340.00,136.00 C340.45,139.00 340.85,141.30 341.30,143.00 C341.75,144.70 342.22,145.95 342.70,146.20 C343.18,146.45 343.57,146.37 344.20,144.50 C344.83,142.63 345.78,137.92 346.50,135.00 C347.22,132.08 347.68,131.00 348.50,127.00 C349.32,123.00 350.60,116.17 351.40,111.00 C352.20,105.83 352.70,100.83 353.30,96.00 C353.90,91.17 354.35,87.17 355.00,82.00 C355.65,76.83 356.45,70.83 357.20,65.00 C357.95,59.17 358.78,51.83 359.50,47.00 C360.22,42.17 360.98,38.67 361.50,36.00 C362.02,33.33 362.13,33.17 362.60,31.00 C363.07,28.83 363.65,25.08 364.30,23.00 C364.95,20.92 365.80,19.75 366.50,18.50 C367.20,17.25 367.83,16.25 368.50,15.50 C369.17,14.75 369.85,14.30 370.50,14.00 C371.15,13.70 371.73,13.53 372.40,13.70 C373.07,13.87 373.65,14.03 374.50,15.00 C375.35,15.97 376.93,18.67 377.50,19.50 C378.07,20.33 377.30,18.85 377.90,20.00 C378.50,21.15 380.03,24.38 381.10,26.40 C382.17,28.42 383.35,30.62 384.30,32.10 C385.25,33.58 386.02,34.48 386.80,35.30 C387.58,36.12 388.17,36.57 389.00,37.00 C389.83,37.43 390.88,37.85 391.80,37.90 C392.72,37.95 393.80,37.65 394.50,37.30 C395.20,36.95 395.12,36.62 396.00,35.80 C396.88,34.98 398.72,33.12 399.80,32.40 C400.88,31.68 401.53,31.67 402.50,31.50 C403.47,31.33 404.52,31.35 405.60,31.40 C406.68,31.45 407.88,31.72 409.00,31.80 C410.12,31.88 411.33,32.03 412.30,31.90 C413.27,31.77 414.02,31.40 414.80,31.00 C415.58,30.60 416.22,30.08 417.00,29.50 C417.78,28.92 418.70,28.15 419.50,27.50 C420.30,26.85 420.78,26.23 421.80,25.60 C422.82,24.97 424.57,23.87 425.60,23.70 C426.63,23.53 427.20,24.28 428.00,24.60 C428.80,24.92 429.57,25.48 430.40,25.60 C431.23,25.72 432.03,25.62 433.00,25.30 C433.97,24.98 434.88,24.43 436.20,23.70 C437.52,22.97 439.67,21.75 440.90,20.90 C442.13,20.05 442.50,19.48 443.60,18.60 C444.70,17.72 446.22,16.22 447.50,15.60 C448.78,14.98 450.03,14.97 451.30,14.90 C452.57,14.83 453.83,15.25 455.10,15.20 C456.37,15.15 457.62,14.87 458.90,14.60 C460.18,14.33 461.63,13.77 462.80,13.60 C463.97,13.43 464.95,13.27 465.90,13.60 C466.85,13.93 467.63,14.85 468.50,15.60 C469.37,16.35 470.30,17.28 471.10,18.10 C471.90,18.92 472.03,18.92 473.30,20.50 C474.57,22.08 477.15,25.67 478.70,27.60 C480.25,29.53 481.43,30.77 482.60,32.10 C483.77,33.43 484.80,34.75 485.70,35.60 C486.60,36.45 487.23,36.87 488.00,37.20 C488.77,37.53 489.40,37.82 490.30,37.60 C491.20,37.38 492.15,37.03 493.40,35.90 C494.65,34.77 496.93,31.78 497.80,30.80 C498.67,29.82 497.83,31.32 498.60,30.00 C499.37,28.68 501.67,24.25 502.40,22.90 C503.13,21.55 502.37,23.12 503.00,21.90 C503.63,20.68 505.13,17.40 506.20,15.60 C507.27,13.80 508.33,11.98 509.40,11.10 C510.47,10.22 511.55,10.30 512.60,10.30 C513.65,10.30 514.65,10.43 515.70,11.10 C516.75,11.77 517.83,13.13 518.90,14.30 C519.97,15.47 521.03,17.05 522.10,18.10 C523.17,19.15 523.82,19.82 525.30,20.60 C526.78,21.38 529.13,22.28 531.00,22.80 C532.87,23.32 534.83,23.53 536.50,23.70 C538.17,23.87 540.25,23.78 541.00,23.80" stroke="#ff00ff"/></g></g><g stroke="#2a2a2a" stroke-width="1.2"><line x1="66.94" y1="182.30" x2="66.94" y2="180.30"/><line x1="66.94" y1="9.50" x2="66.94" y2="11.50"/><line x1="88.38" y1="182.30" x2="88.38" y2="179.10"/><line x1="88.38" y1="9.50" x2="88.38" y2="12.70"/><line x1="109.82" y1="182.30" x2="109.82" y2="180.30"/><line x1="109.82" y1="9.50" x2="109.82" y2="11.50"/><line x1="131.26" y1="182.30" x2="131.26" y2="179.10"/><line x1="131.26" y1="9.50" x2="131.26" y2="12.70"/><line x1="152.70" y1="182.30" x2="152.70" y2="180.30"/><line x1="152.70" y1="9.50" x2="152.70" y2="11.50"/><line x1="174.14" y1="182.30" x2="174.14" y2="179.10"/><line x1="174.14" y1="9.50" x2="174.14" y2="12.70"/><line x1="195.58" y1="182.30" x2="195.58" y2="180.30"/><line x1="195.58" y1="9.50" x2="195.58" y2="11.50"/><line x1="217.02" y1="182.30" x2="217.02" y2="179.10"/><line x1="217.02" y1="9.50" x2="217.02" y2="12.70"/><line x1="238.46" y1="182.30" x2="238.46" y2="180.30"/><line x1="238.46" y1="9.50" x2="238.46" y2="11.50"/><line x1="45.50" y1="160.70" x2="47.50" y2="160.70"/><line x1="259.90" y1="160.70" x2="257.90" y2="160.70"/><line x1="45.50" y1="139.10" x2="48.70" y2="139.10"/><line x1="259.90" y1="139.10" x2="256.70" y2="139.10"/><line x1="45.50" y1="117.50" x2="47.50" y2="117.50"/><line x1="259.90" y1="117.50" x2="257.90" y2="117.50"/><line x1="45.50" y1="95.90" x2="48.70" y2="95.90"/><line x1="259.90" y1="95.90" x2="256.70" y2="95.90"/><line x1="45.50" y1="74.30" x2="47.50" y2="74.30"/><line x1="259.90" y1="74.30" x2="257.90" y2="74.30"/><line x1="45.50" y1="52.70" x2="48.70" y2="52.70"/><line x1="259.90" y1="52.70" x2="256.70" y2="52.70"/><line x1="45.50" y1="31.10" x2="47.50" y2="31.10"/><line x1="259.90" y1="31.10" x2="257.90" y2="31.10"/><rect x="45.50" y="9.50" width="214.40" height="172.80" fill="none"/></g><g stroke="#2a2a2a" stroke-width="1.2"><line x1="347.45" y1="182.30" x2="347.45" y2="180.30"/><line x1="347.45" y1="9.50" x2="347.45" y2="11.50"/><line x1="368.90" y1="182.30" x2="368.90" y2="179.10"/><line x1="368.90" y1="9.50" x2="368.90" y2="12.70"/><line x1="390.35" y1="182.30" x2="390.35" y2="180.30"/><line x1="390.35" y1="9.50" x2="390.35" y2="11.50"/><line x1="411.80" y1="182.30" x2="411.80" y2="179.10"/><line x1="411.80" y1="9.50" x2="411.80" y2="12.70"/><line x1="433.25" y1="182.30" x2="433.25" y2="180.30"/><line x1="433.25" y1="9.50" x2="433.25" y2="11.50"/><line x1="454.70" y1="182.30" x2="454.70" y2="179.10"/><line x1="454.70" y1="9.50" x2="454.70" y2="12.70"/><line x1="476.15" y1="182.30" x2="476.15" y2="180.30"/><line x1="476.15" y1="9.50" x2="476.15" y2="11.50"/><line x1="497.60" y1="182.30" x2="497.60" y2="179.10"/><line x1="497.60" y1="9.50" x2="497.60" y2="12.70"/><line x1="519.05" y1="182.30" x2="519.05" y2="180.30"/><line x1="519.05" y1="9.50" x2="519.05" y2="11.50"/><line x1="326.00" y1="160.70" x2="328.00" y2="160.70"/><line x1="540.50" y1="160.70" x2="538.50" y2="160.70"/><line x1="326.00" y1="139.10" x2="329.20" y2="139.10"/><line x1="540.50" y1="139.10" x2="537.30" y2="139.10"/><line x1="326.00" y1="117.50" x2="328.00" y2="117.50"/><line x1="540.50" y1="117.50" x2="538.50" y2="117.50"/><line x1="326.00" y1="95.90" x2="329.20" y2="95.90"/><line x1="540.50" y1="95.90" x2="537.30" y2="95.90"/><line x1="326.00" y1="74.30" x2="328.00" y2="74.30"/><line x1="540.50" y1="74.30" x2="538.50" y2="74.30"/><line x1="326.00" y1="52.70" x2="329.20" y2="52.70"/><line x1="540.50" y1="52.70" x2="537.30" y2="52.70"/><line x1="326.00" y1="31.10" x2="328.00" y2="31.10"/><line x1="540.50" y1="31.10" x2="538.50" y2="31.10"/><rect x="326.00" y="9.50" width="214.50" height="172.80" fill="none"/></g><text x="45.50" y="196.20" text-anchor="middle">8</text><text x="88.38" y="196.20" text-anchor="middle">10</text><text x="131.26" y="196.20" text-anchor="middle">12</text><text x="174.14" y="196.20" text-anchor="middle">14</text><text x="217.02" y="196.20" text-anchor="middle">16</text><text x="259.90" y="196.20" text-anchor="middle">18</text><text x="41.50" y="186.50" text-anchor="end">0.2</text><text x="41.50" y="143.30" text-anchor="end">0.4</text><text x="41.50" y="100.10" text-anchor="end">0.6</text><text x="41.50" y="56.90" text-anchor="end">0.8</text><text x="41.50" y="13.70" text-anchor="end">1.0</text><text x="152.70" y="216.90" text-anchor="middle" class="ttl">Frequency (GHz)</text><text transform="translate(13.70,92.30) rotate(-90)" text-anchor="middle" class="ttl">Absorptivity</text><text x="151.50" y="245.20" text-anchor="middle" class="cap">(<tspan font-weight="bold">a</tspan>)</text><line x1="185.50" y1="122.60" x2="207.50" y2="122.60" stroke="#000000" stroke-width="2"/><text x="210.10" y="126.20" class="leg">&#952;=0&#176;-TE</text><line x1="185.50" y1="134.60" x2="207.50" y2="134.60" stroke="#ff0000" stroke-width="2"/><text x="210.10" y="138.20" class="leg">&#952;=15&#176;-TE</text><line x1="185.50" y1="146.60" x2="207.50" y2="146.60" stroke="#00ff00" stroke-width="2"/><text x="210.10" y="150.20" class="leg">&#952;=30&#176;-TE</text><line x1="185.50" y1="158.60" x2="207.50" y2="158.60" stroke="#0000ff" stroke-width="2"/><text x="210.10" y="162.20" class="leg">&#952;=45&#176;-TE</text><line x1="185.50" y1="170.60" x2="207.50" y2="170.60" stroke="#ff00ff" stroke-width="2"/><text x="210.10" y="174.20" class="leg">&#952;=60&#176;-TE</text><text x="326.00" y="196.20" text-anchor="middle">8</text><text x="368.90" y="196.20" text-anchor="middle">10</text><text x="411.80" y="196.20" text-anchor="middle">12</text><text x="454.70" y="196.20" text-anchor="middle">14</text><text x="497.60" y="196.20" text-anchor="middle">16</text><text x="540.50" y="196.20" text-anchor="middle">18</text><text x="322.00" y="186.50" text-anchor="end">0.2</text><text x="322.00" y="143.30" text-anchor="end">0.4</text><text x="322.00" y="100.10" text-anchor="end">0.6</text><text x="322.00" y="56.90" text-anchor="end">0.8</text><text x="322.00" y="13.70" text-anchor="end">1.0</text><text x="433.25" y="216.90" text-anchor="middle" class="ttl">Frequency (GHz)</text><text transform="translate(294.20,92.30) rotate(-90)" text-anchor="middle" class="ttl">Absorptivity</text><text x="432.05" y="245.20" text-anchor="middle" class="cap">(<tspan font-weight="bold">b</tspan>)</text><line x1="466.00" y1="122.60" x2="488.00" y2="122.60" stroke="#000000" stroke-width="2"/><text x="490.60" y="126.20" class="leg">&#952;=0&#176;-TM</text><line x1="466.00" y1="134.60" x2="488.00" y2="134.60" stroke="#ff0000" stroke-width="2"/><text x="490.60" y="138.20" class="leg">&#952;=15&#176;-TM</text><line x1="466.00" y1="146.60" x2="488.00" y2="146.60" stroke="#00ff00" stroke-width="2"/><text x="490.60" y="150.20" class="leg">&#952;=30&#176;-TM</text><line x1="466.00" y1="158.60" x2="488.00" y2="158.60" stroke="#0000ff" stroke-width="2"/><text x="490.60" y="162.20" class="leg">&#952;=45&#176;-TM</text><line x1="466.00" y1="170.60" x2="488.00" y2="170.60" stroke="#ff00ff" stroke-width="2"/><text x="490.60" y="174.20" class="leg">&#952;=60&#176;-TM</text>
</svg>
</body></html>
